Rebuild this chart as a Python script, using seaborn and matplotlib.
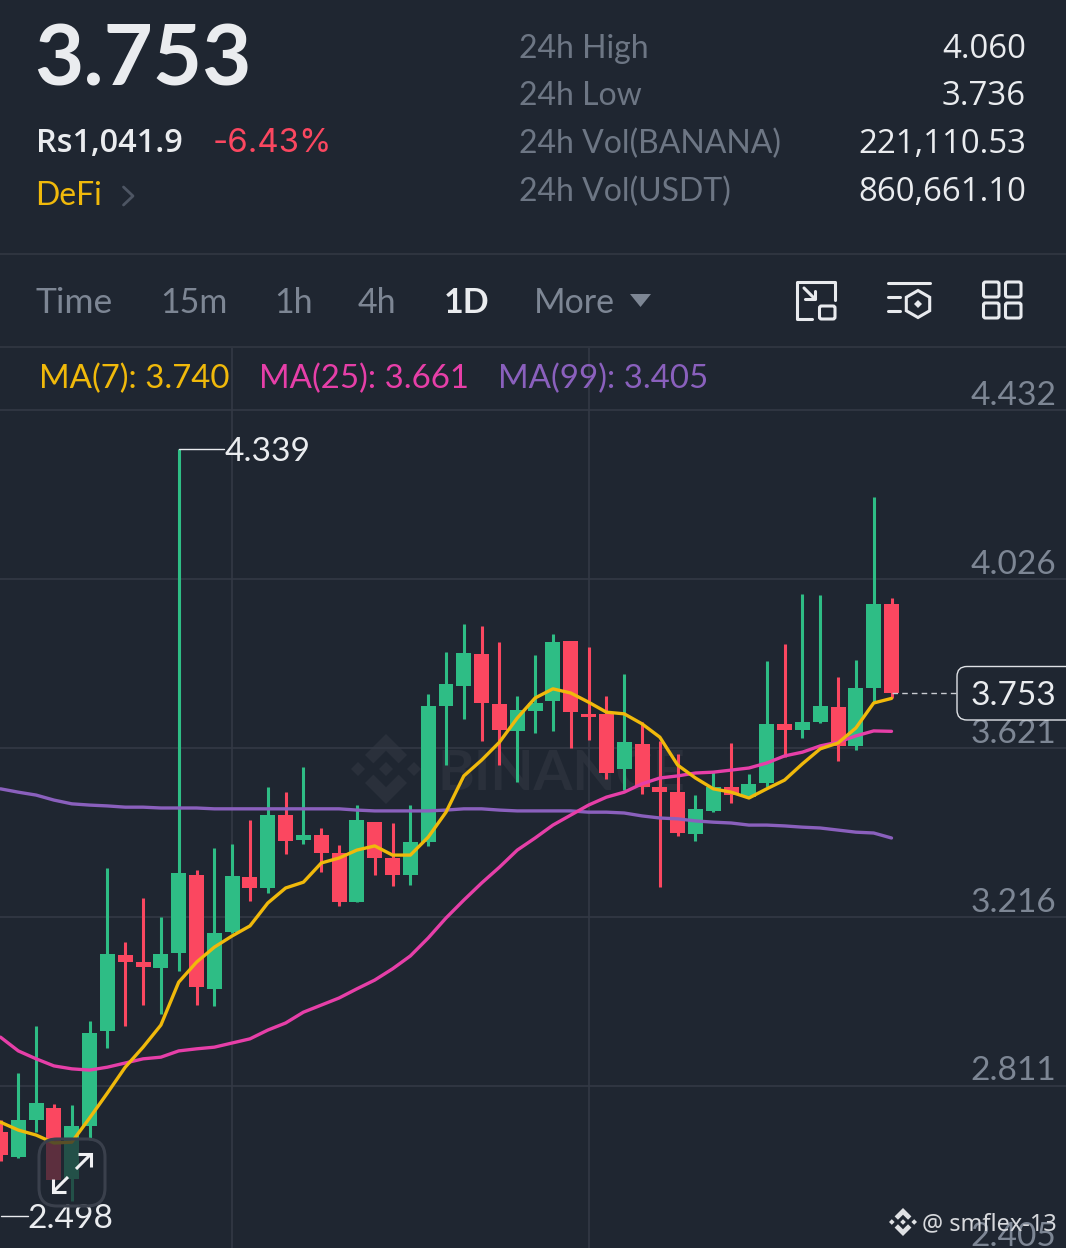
import numpy as np
import pandas as pd
import matplotlib
matplotlib.use("Agg")
import matplotlib.pyplot as plt
from matplotlib.patches import FancyBboxPatch, Polygon, RegularPolygon
import seaborn as sns

# ---------- data ----------
opens = [2.699,2.639,2.728,2.757,2.587,2.714,2.942,3.124,3.107,3.093,3.129,3.316,3.043,3.179,3.311,3.285,3.460,3.400,3.412,3.369,3.251,3.443,3.357,3.316,3.395,3.722,3.770,3.847,3.727,3.662,3.710,3.734,3.878,3.703,3.703,3.571,3.631,3.527,3.515,3.415,3.470,3.527,3.503,3.537,3.679,3.664,3.683,3.719,3.626,3.765,3.967]
closes = [2.644,2.728,2.769,2.584,2.714,2.937,3.127,3.107,3.095,3.127,3.321,3.047,3.177,3.314,3.285,3.460,3.398,3.412,3.369,3.251,3.448,3.357,3.316,3.395,3.722,3.775,3.849,3.729,3.664,3.712,3.729,3.875,3.707,3.695,3.561,3.635,3.527,3.515,3.417,3.475,3.527,3.508,3.535,3.679,3.664,3.683,3.722,3.626,3.765,3.967,3.753]
highs = [2.728,2.841,2.954,2.767,2.764,2.966,3.333,3.155,3.261,3.215,4.339,3.328,3.381,3.391,3.448,3.527,3.515,3.575,3.429,3.388,3.484,3.443,3.441,3.484,3.751,3.851,3.919,3.914,3.875,3.746,3.844,3.895,3.878,3.863,3.746,3.799,3.683,3.638,3.607,3.508,3.563,3.633,3.559,3.830,3.871,3.991,3.988,3.791,3.832,4.223,3.981]
lows = [2.630,2.637,2.699,2.584,2.534,2.680,2.901,2.954,3.004,2.983,3.086,3.004,3.002,3.177,3.254,3.273,3.367,3.391,3.323,3.242,3.251,3.316,3.290,3.292,3.386,3.580,3.691,3.638,3.580,3.539,3.657,3.662,3.621,3.640,3.547,3.520,3.511,3.287,3.410,3.398,3.467,3.489,3.501,3.527,3.599,3.645,3.681,3.590,3.616,3.729,3.741]
ma7 = [2.723,2.704,2.692,2.673,2.675,2.733,2.793,2.855,2.903,2.956,3.059,3.107,3.143,3.170,3.194,3.249,3.285,3.299,3.345,3.357,3.376,3.386,3.364,3.364,3.407,3.467,3.554,3.592,3.635,3.693,3.741,3.763,3.753,3.731,3.707,3.703,3.679,3.647,3.580,3.549,3.523,3.515,3.501,3.523,3.544,3.583,3.619,3.633,3.669,3.729,3.740]
ma25 = [2.927,2.894,2.875,2.858,2.851,2.848,2.855,2.865,2.875,2.879,2.894,2.899,2.903,2.913,2.923,2.944,2.961,2.987,3.004,3.021,3.043,3.064,3.091,3.122,3.165,3.213,3.256,3.297,3.335,3.376,3.405,3.436,3.460,3.484,3.503,3.515,3.535,3.549,3.554,3.561,3.563,3.568,3.573,3.585,3.602,3.611,3.626,3.635,3.650,3.662,3.661]
ma99 = [3.523,3.515,3.508,3.496,3.487,3.484,3.482,3.479,3.479,3.477,3.477,3.477,3.475,3.475,3.475,3.475,3.475,3.475,3.475,3.475,3.472,3.470,3.470,3.470,3.470,3.472,3.475,3.475,3.472,3.470,3.470,3.470,3.470,3.467,3.467,3.465,3.458,3.453,3.451,3.446,3.443,3.441,3.436,3.436,3.434,3.431,3.429,3.424,3.419,3.417,3.405]
axis_ticks = [4.432, 4.026, 3.621, 3.216, 2.811, 2.405]
axis_labels = ["4.432", "4.026", "3.621", "3.216", "2.811", "2.405"]
last_price = 3.753
max_price = 4.339
min_price = 2.498
vgrid_idx = [13, 33]
stats_names = ["24h High", "24h Low", "24h Vol(BANANA)", "24h Vol(USDT)"]
stats_vals = ["4.060", "3.736", "221,110.53", "860,661.10"]

# ---------- styles ----------
BG = "#1f2631"
GRID = "#333945"
GREEN = "#2ebd85"
RED = "#fb4760"
WHITE = "#eaecef"
GREY = "#7d8694"
YEL = "#f0b90b"
PINK = "#e63fa8"
PURP = "#8a60bd"
FONT = "Lato"
NUM = "Inter"
TAB = "Open Sans"

sns.set_theme(style="dark", rc={"axes.facecolor": "none", "figure.facecolor": BG})
plt.rcParams["font.family"] = [FONT, "DejaVu Sans"]

W, H = 1066, 1248
TOP = 348
STEP = 17.82
fig = plt.figure(figsize=(W / 100, H / 100), dpi=100, facecolor=BG)

back = fig.add_axes([0, 0, 1, 1], zorder=0)
back.set_xlim(0, W); back.set_ylim(H, 0); back.axis("off")
ax = fig.add_axes([0, 0, 1, (H - TOP) / H], zorder=1)
ov = fig.add_axes([0, 0, 1, 1], zorder=2)
ov.set_xlim(0, W); ov.set_ylim(H, 0); ov.axis("off")
ov.patch.set_alpha(0)


def t(a, x, y, s, px, color, weight="normal", ha="left", family=None, zorder=5):
    return a.text(x, y, s, fontsize=px * 0.72, color=color, fontweight=weight, ha=ha,
                  va="baseline", family=family if family else [FONT, "DejaVu Sans"], zorder=zorder)


def logo(a, cx, cy, r, color, zorder=1):
    for dx in (-0.8, 0, 0.8):
        a.add_patch(Polygon([(cx + (dx - .2) * r, cy), (cx + dx * r, cy - .2 * r),
                             (cx + (dx + .2) * r, cy), (cx + dx * r, cy + .2 * r)],
                            fc=color, ec="none", zorder=zorder))
    for s in (-1, 1):
        pts = [(0, 1), (.6, .4), (.36, .16), (0, .52), (-.36, .16), (-.6, .4)]
        a.add_patch(Polygon([(cx + p * r, cy + s * q * r) for p, q in pts], fc=color, ec="none", zorder=zorder))


# ---------- header ----------
t(ov, 34, 86, "3.753", 85, WHITE, "bold")
t(ov, 36, 152, "Rs1,041.9", 32.5, WHITE, "semibold", family=[TAB, "DejaVu Sans"])
t(ov, 213, 152, "-6.43%", 33, RED, family=[NUM, "DejaVu Sans"])
t(ov, 35, 205, "DeFi", 32, YEL)
ov.plot([123.5, 133, 123.5], [187, 196, 205], color="#4d5563", lw=2, solid_capstyle="round")
for i, (n, v) in enumerate(zip(stats_names, stats_vals)):
    y = [58, 105, 153, 201][i]
    t(ov, 519, y, n, 32, "#6d7684")
    t(ov, 1026, y, v, 33, WHITE, "medium", ha="right", family=[TAB, "DejaVu Sans"])
for y in (254, 347):
    ov.plot([0, W], [y, y], color="#2f3540", lw=1.4)

# ---------- tabs ----------
for x, s, c, w, px in [(35, "Time", GREY, "normal", 35.5), (160, "15m", GREY, "normal", 34), (274, "1h", GREY, "normal", 34),
                       (358, "4h", GREY, "normal", 34), (444, "1D", WHITE, "bold", 34), (534, "More", GREY, "normal", 34)]:
    t(ov, x, 313, s, px, c, w)
ov.add_patch(Polygon([(630, 294), (651, 294), (640.5, 307)], fc=GREY, ec="none"))

IC = dict(color="#e8eaee", lw=2.2, solid_capstyle="round", solid_joinstyle="round")
ov.plot([835, 835, 797, 797, 812], [300, 281.5, 281.5, 318.5, 318.5], **IC)
ov.add_patch(FancyBboxPatch((819.5, 306), 15.5, 13, boxstyle="round,pad=0,rounding_size=2", fc="none", ec="#e8eaee", lw=2.2))
ov.plot([804, 815], [288, 299], **IC)
ov.plot([815, 815, 805], [291, 299, 299], **IC)
ov.plot([888, 930], [283, 283], **IC)
ov.plot([888, 900], [297, 297], **IC)
ov.plot([888, 900], [311, 311], **IC)
ov.add_patch(RegularPolygon((918, 304), 6, radius=13.5, fc="none", ec="#e8eaee", lw=2.2))
ov.add_patch(Polygon([(914, 304), (918, 300), (922, 304), (918, 308)], fc="#e8eaee", ec="none"))
for x0 in (983.5, 1005.5):
    for y0 in (282, 303):
        ov.add_patch(FancyBboxPatch((x0, y0), 15.5, 15, boxstyle="round,pad=0,rounding_size=2", fc="none", ec="#e8eaee", lw=2.2))

# ---------- MA legend ----------
t(ov, 39, 388, "MA(7): 3.740", 33, YEL)
t(ov, 259, 388, "MA(25): 3.661", 33, PINK)
t(ov, 498, 388, "MA(99): 3.405", 33, PURP)

# ---------- watermark ----------
logo(back, 386, 769, 35, "#2a303b")
t(back, 437, 790, "BINANCE", 56, "#2a303b", "bold", zorder=1)

# ---------- chart ----------
idx = np.arange(len(opens))
df = pd.DataFrame({"i": idx, "o": opens, "c": closes, "h": highs, "l": lows,
                   "MA7": ma7, "MA25": ma25, "MA99": ma99})
df["col"] = np.where(df.c >= df.o, GREEN, RED)
df.loc[df.i == 21, "col"] = RED

for v in axis_ticks:
    ax.axhline(v, color=GRID, lw=1.2, zorder=0)
for v in vgrid_idx:
    ax.axvline(v, color=GRID, lw=1.2, zorder=0)

ax.vlines(df.i, df.l, df.h, colors=df.col, lw=2.2, zorder=2)
ax.bar(df.i, (df.c - df.o).abs(), bottom=df[["o", "c"]].min(axis=1), width=0.84,
       color=df.col, edgecolor="none", linewidth=0, zorder=3)

sns.lineplot(data=df, x="i", y="MA99", color=PURP, lw=2.4, ax=ax, zorder=4, errorbar=None)
sns.lineplot(data=df, x="i", y="MA25", color=PINK, lw=2.4, ax=ax, zorder=5, errorbar=None)
sns.lineplot(data=df, x="i", y="MA7", color=YEL, lw=2.4, ax=ax, zorder=6, errorbar=None)

ax.set_xlim(-0.5 / STEP, (W - 0.5) / STEP)
ax.set_ylim(3.621 - (H - 748) * 0.0024, 3.621 + (748 - TOP) * 0.0024)
ax.set_xticks([]); ax.set_yticks([])
ax.set_xlabel(""); ax.set_ylabel("")
sns.despine(ax=ax, left=True, bottom=True)

# axis labels sit just above their grid lines, at the right edge
for v, s, off in zip(axis_ticks, axis_labels, [5, 5, 5, 5, 5, 9]):
    ax.annotate(s, xy=(1, v), xycoords=("axes fraction", "data"), xytext=(-9.5 * .72, off * .72),
                textcoords="offset points", ha="right", va="baseline", fontsize=33.5 * .72,
                color=GREY, annotation_clip=False, zorder=7)

# high / low markers
hi_i = int(np.argmax(highs))
ax.plot([hi_i, hi_i + 2.53], [max_price, max_price], color=WHITE, lw=1, zorder=7)
ax.annotate("4.339", xy=(hi_i + 2.55, max_price), xytext=(0, -12.5 * .72), textcoords="offset points",
            va="baseline", ha="left", fontsize=33.5 * .72, color=WHITE, zorder=7)
ax.plot([0, 1.55], [min_price, min_price], color=WHITE, lw=1, zorder=7)
ax.annotate("2.498", xy=(1.5, min_price), xytext=(0, -12.5 * .72), textcoords="offset points",
            va="baseline", ha="left", fontsize=33.5 * .72, color=WHITE, zorder=7)

# last price dashed line and pill
ax.plot([idx[-1], 53.7], [last_price, last_price], color="#c9ccd2", lw=1, dashes=(4, 3), zorder=7)
ov.add_patch(FancyBboxPatch((957, 666.5), 125, 53.5, boxstyle="round,pad=0,rounding_size=10", fc=BG, ec="#dfe2e6", lw=1))
t(ov, 971, 705, "3.753", 33.5, WHITE)

# expand button
ov.add_patch(FancyBboxPatch((39, 1139), 66, 67, boxstyle="round,pad=0,rounding_size=18",
                            fc=(0.122, 0.149, 0.192, 0.72), ec="#3a404c", lw=2.2))
AR = dict(color="#f0f1f3", lw=2.2, solid_capstyle="butt", solid_joinstyle="miter")
ov.plot([76, 91], [1169, 1154], **AR)
ov.plot([78, 91, 91], [1154, 1154, 1167], **AR)
ov.plot([68, 53], [1177, 1192], **AR)
ov.plot([53, 53, 66], [1179, 1192, 1192], **AR)

# signature
logo(ov, 903, 1222, 14, "#dfe1e4", zorder=8)
t(ov, 922, 1230, "@ smflex-13", 23.5, "#d7d9dd", family=["Noto Sans", "DejaVu Sans"], zorder=8)

fig.savefig("out.png", dpi=100, facecolor=BG)
